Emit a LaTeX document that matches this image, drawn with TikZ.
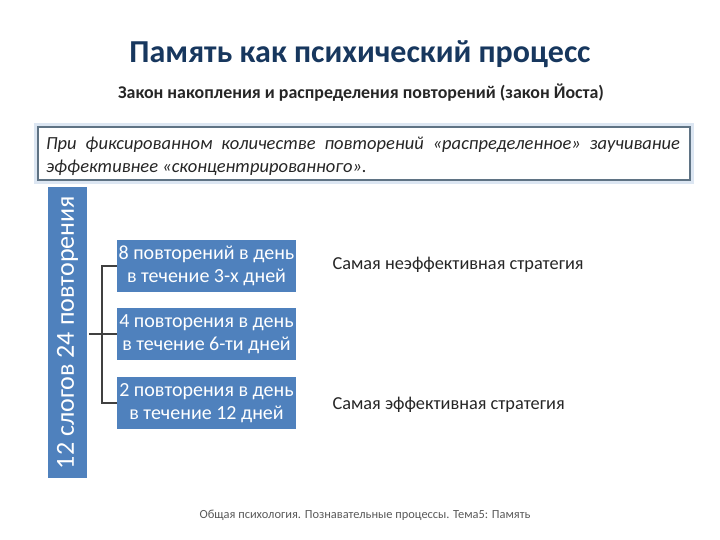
\documentclass[tikz,border=0pt]{standalone}
\usepackage{fontspec}
\setmainfont{Carlito}
\usetikzlibrary{positioning}
\definecolor{titleblue}{HTML}{17375E}
\definecolor{boxblue}{HTML}{4F81BD}
\definecolor{frameblue}{HTML}{5F7384}
\definecolor{glowblue}{HTML}{DCE6F2}
\definecolor{footgray}{HTML}{595959}
\tikzset{
  stratbox/.style={fill=boxblue, text=white, minimum width=179pt, minimum height=52pt,
    inner sep=0pt, align=center, font=\fontsize{20}{23}\selectfont},
  stratlabel/.style={anchor=west, font=\fontsize{18.3}{20}\selectfont, text=black!85},
  bracket/.style={draw=black!75, line width=1.2pt}
}
\begin{document}
\begin{tikzpicture}[x=1pt, y=-1pt]
  \useasboundingbox (0,0) rectangle (720,540);

  % Headings
  \node[font=\fontsize{32}{34}\selectfont\bfseries, text=titleblue] (title) at (360,54) {Память как психический процесс};
  \node[font=\fontsize{17.9}{20}\selectfont\bfseries, text=black!85] (subtitle) at (361,93) {Закон накопления и распределения повторений (закон Йоста)};

  % Rule statement
  \draw[glowblue, line width=4pt] (36,125) rectangle (692,182);
  \draw[frameblue, line width=2pt] (38,127) rectangle (690,180);
  \node[text width=634pt, align=justify, inner sep=0pt, font=\fontsize{18.5}{23}\selectfont\itshape, text=black!85] (rule) at (363,156)
    {При фиксированном количестве повторений «распределенное» заучивание эффективнее «сконцентрированного».};

  % Total load
  \node[fill=boxblue, text=white, rotate=90, minimum width=291pt, minimum height=39pt, inner sep=0pt,
    font=\fontsize{26}{28}\selectfont] (total) at (67.5,332.5) {12 слогов 24 повторения};

  % Strategies
  \foreach \y/\name/\txt in {266/s1/{8 повторений в день\\в течение 3-х дней},
                             334/s2/{4 повторения в день\\в течение 6-ти дней},
                             403/s3/{2 повторения в день\\в течение 12 дней}} {
    \node[stratbox] (\name) at (206.5,\y) {\txt};
  }

  % Bracket
  \coordinate (top) at (102,266);
  \coordinate (mid) at (102,334);
  \coordinate (bot) at (102,403);
  \draw[bracket] (total.south |- mid) ++(2,0) -- (mid);
  \draw[bracket] (s1.west) -- (top) -- (bot) -- (s3.west);
  \draw[bracket] (mid) -- (s2.west);

  % Labels
  \node[stratlabel] (worst) at (329,265) {Самая неэффективная стратегия};
  \node[stratlabel] (best) at (329,405) {Самая эффективная стратегия};

  \node[font=\fontsize{12.4}{14}\selectfont, text=footgray] (foot) at (365,515) {Общая психология. Познавательные процессы. Тема5: Память};
\end{tikzpicture}
\end{document}
